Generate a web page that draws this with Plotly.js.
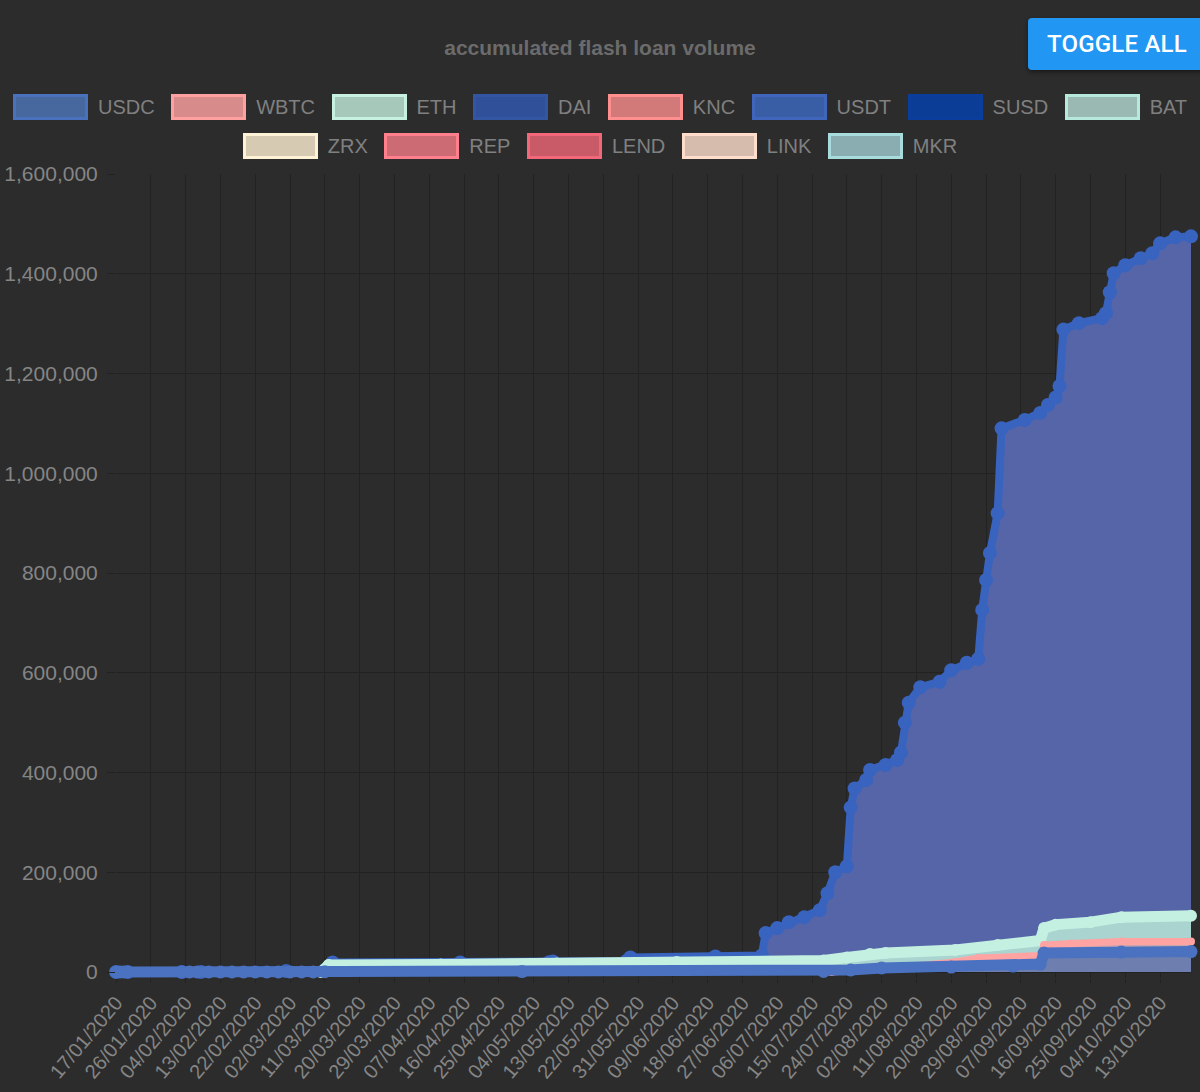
<!DOCTYPE html>
<html>
<head>
<meta charset="utf-8">
<script src="https://cdn.plot.ly/plotly-3.0.1.min.js"></script>
<style>
  html, body { margin: 0; padding: 0; background: #2c2c2c; }
  #wrap { position: relative; width: 1200px; height: 1092px; overflow: hidden; background: #2c2c2c; }
  #chart { position: absolute; left: 0; top: 0; width: 1200px; height: 1092px; }
  .lrow { position: absolute; left: 0; width: 1200px; height: 26px; display: flex; justify-content: center; align-items: center; gap: 16.5px; }
  .litem { display: flex; align-items: center; cursor: pointer; }
  .lbox { width: 75px; height: 26px; box-sizing: border-box; border: 3px solid; margin-right: 10px; }
  .ltext { font-family: "Liberation Sans", Arial, sans-serif; font-size: 20px; color: #808080; white-space: nowrap; }
  #toggle { position: absolute; left: 1028px; top: 18px; width: 182px; height: 52px; border: none; border-radius: 4px;
    background: #2196f3; color: #fff; font-family: Roboto, sans-serif; font-weight: 500; font-size: 24px;
    text-align: left; padding: 0 0 0 19px; letter-spacing: 0.2px; box-shadow: 0 2px 4px rgba(0,0,0,0.45); cursor: pointer; }
</style>
</head>
<body>
<div id="wrap">
  <div id="chart"></div>
  <div id="legendRow1" class="lrow" style="top:94px"></div>
  <div id="legendRow2" class="lrow" style="top:133px"></div>
  <button id="toggle">TOGGLE ALL</button>
</div>
<script>
// ---------- data ----------
const chartTitle = "accumulated flash loan volume";

const legendNames  = ["USDC","WBTC","ETH","DAI","KNC","USDT","SUSD","BAT","ZRX","REP","LEND","LINK","MKR"];
const legendBorder = ["#4a71bd","#ffa0a0","#c6f0e0","#3356a3","#ff8f8f","#3f66bc","#0a3d9c","#b6e8dc","#fdf1d6","#ff808c","#f2687a","#ffdccb","#a8dcdc"];
const legendFill   = ["#46689f","#d78b8b","#a6c8ba","#30509a","#d27a7a","#3a5ea6","#0b3c96","#9ab9b2","#d6cab2","#cc6b73","#c95a68","#d6bcac","#89adb0"];

const daiDates = ["2020-01-17","2020-01-20","2020-02-03","2020-02-08","2020-03-01","2020-03-11","2020-03-13","2020-04-15","2020-05-08","2020-05-09","2020-05-28","2020-05-29","2020-06-20","2020-07-02","2020-07-03","2020-07-06","2020-07-09","2020-07-13","2020-07-17","2020-07-19","2020-07-21","2020-07-24","2020-07-25","2020-07-26","2020-07-29","2020-07-30","2020-08-03","2020-08-06","2020-08-07","2020-08-08","2020-08-09","2020-08-12","2020-08-17","2020-08-20","2020-08-24","2020-08-27","2020-08-28","2020-08-29","2020-08-30","2020-09-01","2020-09-02","2020-09-08","2020-09-12","2020-09-14","2020-09-16","2020-09-17","2020-09-18","2020-09-22","2020-09-28","2020-09-29","2020-09-30","2020-10-01","2020-10-04","2020-10-08","2020-10-11","2020-10-13","2020-10-17","2020-10-21"];
const daiValues = [0,0,0,0,2000,4000,19000,19000,19500,21000,22000,29000,31000,33000,78000,88000,100000,110000,124000,158000,200000,212000,330000,368000,385000,405000,415000,425000,440000,500000,540000,571000,582000,605000,620000,628000,726000,786000,840000,920000,1090000,1107000,1121000,1137000,1152000,1175000,1288000,1301000,1311000,1321000,1363000,1401000,1417000,1431000,1441000,1461000,1473000,1475000];

const ethDates = ["2020-03-10","2020-03-12","2020-04-10","2020-05-10","2020-06-10","2020-07-18","2020-07-24","2020-07-30","2020-08-03","2020-08-21","2020-09-01","2020-09-12","2020-09-13","2020-09-16","2020-09-25","2020-10-03","2020-10-21"];
const ethValues = [0,14000,15000,17000,20000,23000,29000,36000,38000,44000,54000,63000,88000,95000,100000,110000,113000];

const wbtcDates = ["2020-07-20","2020-08-05","2020-08-21","2020-08-27","2020-09-12","2020-09-13","2020-09-20","2020-10-03","2020-10-21"];
const wbtcValues = [0,8000,20000,28000,33000,54000,57000,61000,61000];

const usdcDates = ["2020-01-17","2020-01-18","2020-01-19","2020-01-20","2020-02-03","2020-02-05","2020-02-07","2020-02-10","2020-02-13","2020-02-16","2020-02-19","2020-02-22","2020-02-25","2020-02-28","2020-03-02","2020-03-05","2020-03-08","2020-03-11","2020-05-01","2020-07-18","2020-07-25","2020-08-02","2020-08-20","2020-09-05","2020-09-12","2020-09-13","2020-10-03","2020-10-21"];
const usdcValues = [0,0,0,0,0,0,0,0,0,0,0,0,0,0,0,0,0,500,800,1000,4000,8000,10000,12000,16000,38000,40000,41000];

const yTickValues = [0,200000,400000,600000,800000,1000000,1200000,1400000,1600000];

// ---------- styles ----------
const styles = {
  DAI:  {line: "#3863bf", fill: "#5565a8", width: 8,  msize: 14},
  ETH:  {line: "#c4f0e2", fill: "#a9d4d0", width: 11, msize: 12},
  WBTC: {line: "#ffa3a3", fill: "#c9a5ae", width: 7,  msize: 8},
  USDC: {line: "#4a72c0", fill: "#6e7eae", width: 11, msize: 13}
};

function mk(name, x, y) {
  const s = styles[name];
  return {
    type: "scatter", mode: "lines+markers", name: name,
    x: x, y: y, fill: "tozeroy", fillcolor: s.fill,
    line: {color: s.line, width: s.width, shape: "linear"},
    marker: {color: s.line, size: s.msize, line: {width: 0}},
    cliponaxis: false, hoverinfo: "x+y+name"
  };
}

// draw order: back to front
const traces = [
  mk("DAI", daiDates, daiValues),
  mk("ETH", ethDates, ethValues),
  mk("WBTC", wbtcDates, wbtcValues),
  mk("USDC", usdcDates, usdcValues)
];

const tickFont = {family: "Liberation Sans, Arial, sans-serif", size: 20, color: "#858585"};
const yTickFont = {family: "Liberation Sans, Arial, sans-serif", size: 21, color: "#858585"};
const gridCol = "#222222";
const yMin = -12000;   // small room below zero so the thick zero-level band is not cut
const yMax = 1600000;

const layout = {
  width: 1200, height: 1092, autosize: false,
  paper_bgcolor: "#2c2c2c", plot_bgcolor: "#2c2c2c",
  margin: {l: 116, r: 9, t: 174, b: 114, pad: 0},
  showlegend: false,
  title: {
    text: chartTitle, x: 0.5, xref: "container", xanchor: "center",
    y: 1 - 48 / 1092, yref: "container", yanchor: "middle",
    font: {family: "Liberation Sans, Arial, sans-serif", size: 21, color: "#6b6b6b", weight: "bold"}
  },
  xaxis: {
    type: "date", range: ["2020-01-17", "2020-10-21"],
    tick0: "2020-01-17", dtick: 9 * 86400000, tickformat: "%d/%m/%Y",
    tickangle: -50, tickfont: tickFont,
    showgrid: true, gridcolor: gridCol, gridwidth: 1,
    ticks: "outside", ticklen: 4, tickcolor: gridCol,
    zeroline: false, showline: false, fixedrange: true
  },
  yaxis: {
    range: [yMin, yMax], tickmode: "array", tickvals: yTickValues,
    ticktext: yTickValues.map(v => v.toLocaleString("en-US")),
    tickfont: yTickFont,
    showgrid: true, gridcolor: gridCol, gridwidth: 1,
    ticks: "outside", ticklen: 8, tickcolor: gridCol, ticklabelstandoff: 5,
    zeroline: false, showline: false, fixedrange: true
  },
  hovermode: "closest"
};

Plotly.newPlot("chart", traces, layout, {displayModeBar: false, responsive: false});

// ---------- legend ----------
const rowSplit = 8;
const gd = document.getElementById("chart");
legendNames.forEach((name, i) => {
  const item = document.createElement("div");
  item.className = "litem";
  const box = document.createElement("span");
  box.className = "lbox";
  box.style.borderColor = legendBorder[i];
  box.style.background = legendFill[i];
  const txt = document.createElement("span");
  txt.className = "ltext";
  txt.textContent = name;
  item.appendChild(box); item.appendChild(txt);
  item.addEventListener("click", () => {
    const idx = gd.data.findIndex(t => t.name === name);
    const hidden = txt.style.textDecoration === "line-through";
    txt.style.textDecoration = hidden ? "none" : "line-through";
    if (idx >= 0) Plotly.restyle(gd, {visible: hidden ? true : false}, [idx]);
  });
  document.getElementById(i < rowSplit ? "legendRow1" : "legendRow2").appendChild(item);
});

let allVisible = true;
document.getElementById("toggle").addEventListener("click", () => {
  allVisible = !allVisible;
  Plotly.restyle(gd, {visible: allVisible}, gd.data.map((_, i) => i));
  document.querySelectorAll(".ltext").forEach(t => t.style.textDecoration = allVisible ? "none" : "line-through");
});
</script>
</body>
</html>
